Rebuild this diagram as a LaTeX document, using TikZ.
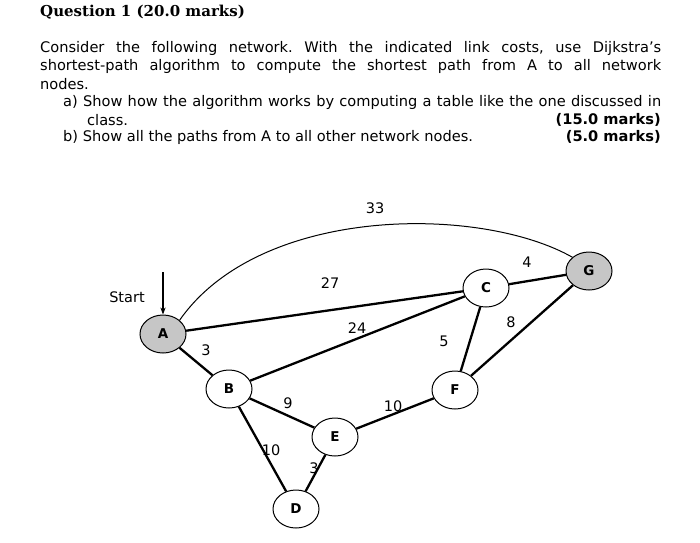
\documentclass[tikz,border=0pt]{standalone}
\usepackage{fontspec}
\usetikzlibrary{shapes.geometric,arrows.meta}
\setmainfont{DejaVu Sans}
\newfontfamily\qfont{DejaVu Serif}
\newcommand{\jline}[2]{\hbox to #1{#2}}
\frenchspacing
\begin{document}
\begin{tikzpicture}[x=1pt,y=-1pt,
  nd/.style={draw,ellipse,minimum width=46,minimum height=38,inner sep=0,line width=1pt,font=\bfseries\fontsize{13.5}{13.5}\selectfont,fill=white},
  gnd/.style={nd,fill=gray!45},
  ed/.style={line width=2.3pt},
  lb/.style={font=\fontsize{14.5}{14.5}\selectfont},
  tx/.style={anchor=west,inner sep=0,font=\fontsize{14.6}{18}\selectfont}]
\useasboundingbox (0,0) rectangle (700,542);
\node[anchor=west,inner sep=0,font=\qfont\bfseries\fontsize{15}{18}\selectfont] (q) at (40,12) {Question 1 (20.0 marks)};
\node[tx] (l1) at (40,48) {\jline{621pt}{Consider the following network. With the indicated link costs, use Dijkstra’s}};
\node[tx] (l2) at (40,66) {\jline{621pt}{shortest-path algorithm to compute the shortest path from A to all network}};
\node[tx] (l3) at (40,84) {nodes.};
\node[tx] (l4) at (63,102) {\jline{598pt}{a) Show how the algorithm works by computing a table like the one discussed in}};
\node[tx] (l5) at (87,120) {class.};
\node[tx,anchor=east,font=\bfseries\fontsize{14.6}{18}\selectfont] (m1) at (661,120) {(15.0 marks)};
\node[tx] (l6) at (63,137) {b) Show all the paths from A to all other network nodes.};
\node[tx,anchor=east,font=\bfseries\fontsize{14.6}{18}\selectfont] (m2) at (661,137) {(5.0 marks)};

\node[gnd] (A) at (163,334) {A};
\node[nd] (B) at (229,389) {B};
\node[nd] (C) at (486,288) {C};
\node[gnd] (G) at (589,271) {G};
\node[nd] (F) at (455,390) {F};
\node[nd] (E) at (335,437) {E};
\node[nd] (D) at (296,509) {D};

\draw[line width=1pt] (A.north east) .. controls (260,205) and (480,205) .. (G.north west);
\draw[ed] (A) -- (C);
\draw[ed] (B) -- (C);
\draw[ed] (A) -- (B);
\draw[ed] (B) -- (E);
\draw[ed] (B) -- (D);
\draw[ed] (D) -- (E);
\draw[ed] (E) -- (F);
\draw[ed] (F) -- (C);
\draw[ed] (F) -- (G);
\draw[ed] (C) -- (G);

\node[lb] (t33) at (375,208) {33};
\node[lb] (t27) at (330,283) {27};
\node[lb] (t24) at (357,328) {24};
\node[lb] (t3a) at (206,350) {3};
\node[lb] (t9) at (288,403) {9};
\node[lb] (t10a) at (271,450) {10};
\node[lb] (t3b) at (314,468) {3};
\node[lb] (t10b) at (393,406) {10};
\node[lb] (t5) at (444,341) {5};
\node[lb] (t8) at (511,322) {8};
\node[lb] (t4) at (527,262) {4};
\node[lb] (st) at (127,297) {Start};
\coordinate (s0) at (163,272);
\draw[-{Stealth[length=7pt]},line width=1.5pt] (s0) -- (A.north);
\end{tikzpicture}
\end{document}
